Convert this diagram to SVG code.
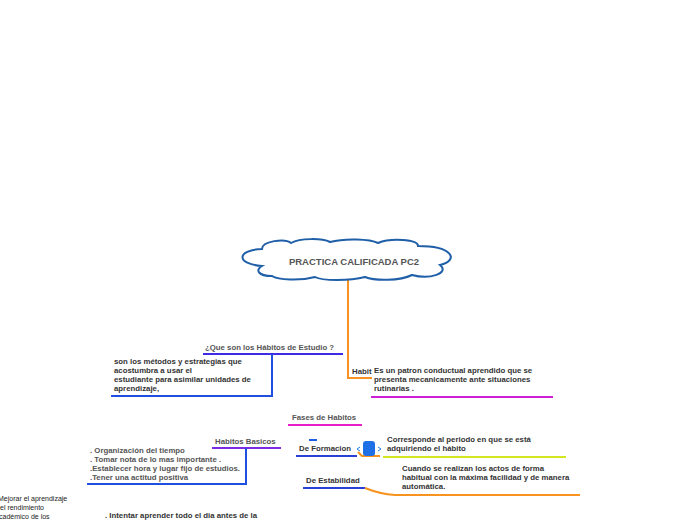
<svg xmlns="http://www.w3.org/2000/svg" width="697" height="520" viewBox="0 0 697 520">
<style>
text{font-family:"Liberation Sans",Arial,sans-serif;font-weight:bold;font-size:7.8px;fill:#333}
.t{fill:#555}
.r{font-weight:normal;font-size:7px;fill:#222}
.l{fill:none;stroke-width:2}
</style>
<rect width="697" height="520" fill="#fff"/>
<g id="connectors">
<path class="l" d="M348 280 V378 H372" stroke="#f7931e"/>
<path class="l" d="M203 354 H343" stroke="#3d2be6"/>
<path class="l" d="M272 354 V396 H111" stroke="#1f4fe0"/>
<path class="l" d="M371 397 H553" stroke="#cc1fd6"/>
<path class="l" d="M288 425 H362" stroke="#e61fc9"/>
<path class="l" d="M212 448 H281" stroke="#7a2be6"/>
<path class="l" d="M246 448 V484 H87" stroke="#1f4fe0"/>
<path class="l" d="M309 440 H317" stroke="#1f5fe6"/>
<path class="l" d="M296 456 H357" stroke="#2a3fd6"/>
<path class="l" d="M358 452 L362 456 H380" stroke="#f7931e"/>
<path class="l" d="M383 457 H566" stroke="#d4e61f"/>
<path class="l" d="M303 488 H365" stroke="#2a3fd6"/>
<path class="l" d="M365 488 Q380 494 395 495 H580" stroke="#f7931e"/>
<path d="M360 447 l-3 2 l3 2 M378 447 l3 2 l-3 2" fill="none" stroke="#1f7fe6" stroke-width="1"/>
</g>
<g id="root">
<path d="M262 266 C236 264 236 250 262 249 C262 241 285 238 291 243 C300 238 322 238 330 242 C345 238 370 239 378 243 C390 238 418 239 418 246 C452 246 460 260 440 265 C450 273 430 280 412 275 C400 281 375 281 365 277 C350 281 322 281 315 277 C300 281 278 280 272 276 C258 276 255 270 262 266 Z" fill="#fff" stroke="#1f5fa8" stroke-width="2"/>
<text x="354" y="265" text-anchor="middle" style="font-size:9.5px" class="t">PRACTICA CALIFICADA PC2</text>
</g>
<g id="que"><text x="205" y="350" class="t">¿Que son los Hábitos de Estudio ?</text></g>
<g id="que-def"><text x="114" y="364">son los métodos y estrategias que</text><text x="114" y="373">acostumbra a usar el</text><text x="114" y="382">estudiante para asimilar unidades de</text><text x="114" y="391">aprendizaje,</text></g>
<g id="habit"><text x="352" y="374">Habit</text></g>
<g id="habit-def"><text x="374" y="373">Es un patron conductual aprendido que se</text><text x="374" y="382">presenta mecanicamente ante situaciones</text><text x="374" y="391">rutinarias .</text></g>
<g id="fases"><text x="292" y="420" class="t">Fases de Habitos</text></g>
<g id="basicos"><text x="215" y="444" class="t">Habitos Basicos</text></g>
<g id="basicos-list"><text x="90" y="453" class="t">. Organización del tiempo</text><text x="90" y="462" class="t">. Tomar nota de lo mas importante .</text><text x="90" y="471" class="t">.Establecer hora y lugar fijo de estudios.</text><text x="90" y="480" class="t">.Tener una actitud positiva</text></g>
<g id="formacion"><text x="299" y="451">De Formacion</text></g>
<g id="node-blue"><rect x="363" y="441" width="12" height="15" rx="3" fill="#1f6fe6"/></g>
<g id="formacion-def"><text x="387" y="442">Corresponde al periodo en que se está</text><text x="387" y="451">adquiriendo el hábito</text></g>
<g id="estabilidad"><text x="306" y="483">De Estabilidad</text></g>
<g id="estabilidad-def"><text x="402" y="471">Cuando se realizan los actos de forma</text><text x="402" y="480">habitual con la máxima facilidad y de manera</text><text x="402" y="489">automática.</text></g>
<g id="left"><text x="-2" y="501" class="r">Mejorar el aprendizaje</text><text x="0" y="510" class="r">el rendimiento</text><text x="-1" y="519" class="r">cadémico de los</text></g>
<g id="intentar"><text x="105" y="518">. Intentar aprender todo el dia antes de la</text></g>
</svg>
